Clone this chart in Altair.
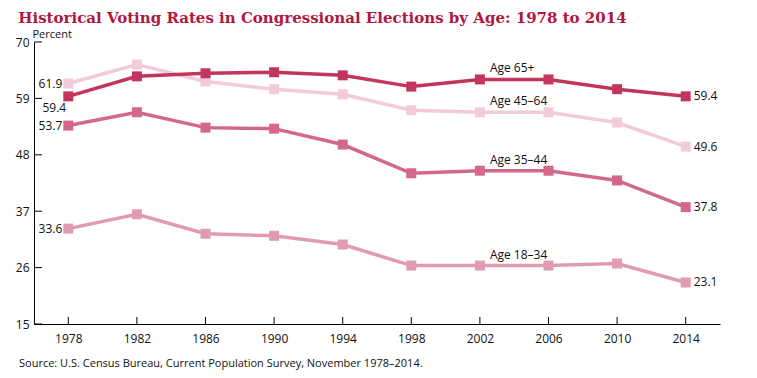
import altair as alt
import pandas as pd

years = [1978, 1982, 1986, 1990, 1994, 1998, 2002, 2006, 2010, 2014]
age_65 = [59.4, 63.3, 63.9, 64.1, 63.5, 61.3, 62.7, 62.7, 60.8, 59.4]
age_45 = [61.9, 65.6, 62.3, 60.8, 59.8, 56.7, 56.3, 56.3, 54.3, 49.6]
age_35 = [53.7, 56.3, 53.3, 53.1, 50.0, 44.4, 44.9, 44.9, 43.0, 37.8]
age_18 = [33.6, 36.4, 32.6, 32.2, 30.5, 26.4, 26.4, 26.4, 26.8, 23.1]
series_names = ["Age 18\u201334", "Age 35\u201344", "Age 45\u201364", "Age 65+"]
series_colors = ["#E09BB3", "#D4688A", "#F2CBD7", "#C4355E"]
y_ticks = [15, 26, 37, 48, 59, 70]

title_text = "Historical Voting Rates in Congressional Elections by Age: 1978 to 2014"
source_text = "Source: U.S. Census Bureau, Current Population Survey, November 1978\u20132014."

rows = []
for name, vals in zip(series_names, [age_18, age_35, age_45, age_65]):
    for yr, v in zip(years, vals):
        rows.append({"series": name, "year": yr, "value": v, "label": f"{v:.1f}"})
df = pd.DataFrame(rows)

W, H = 686, 282
FONT = "Open Sans"

x = alt.X("year:Q", scale=alt.Scale(domain=[1976, 2016], nice=False, zero=False),
          axis=alt.Axis(values=years, format="d", ticks=False, grid=False, domainColor="#000",
                        labelFont=FONT, labelFontSize=12, labelColor="#111", labelPadding=9,
                        title=None))
y = alt.Y("value:Q", scale=alt.Scale(domain=[15, 70], nice=False, zero=False),
          axis=alt.Axis(values=y_ticks, ticks=False, grid=False, domainColor="#000",
                        labelFont=FONT, labelFontSize=12, labelColor="#111", labelPadding=5,
                        title="Percent", titleAngle=0, titleAlign="left", titleBaseline="bottom",
                        titleX=-2, titleY=-3, titleFont=FONT, titleFontSize=11,
                        titleFontWeight="normal", titleColor="#111"))
color = alt.Color("series:N", scale=alt.Scale(domain=series_names, range=series_colors), legend=None)

base = alt.Chart(df)

lines = base.mark_line(strokeWidth=3.5).encode(x=x, y=y, color=color, detail="series:N")
points = base.mark_square(size=100, opacity=1).encode(x="year:Q", y="value:Q", color=color)

text_common = dict(font=FONT, fontSize=12, color="#111", baseline="middle")

left_lbl = base.transform_filter(
    (alt.datum.year == 1978) & (alt.datum.series != "Age 65+")
).mark_text(align="right", dx=-6, **text_common).encode(x="year:Q", y="value:Q", text="label:N")

left_65 = base.transform_filter(
    (alt.datum.year == 1978) & (alt.datum.series == "Age 65+")
).mark_text(align="center", dx=-14, dy=12, **text_common).encode(x="year:Q", y="value:Q", text="label:N")

right_lbl = base.transform_filter(alt.datum.year == 2014).mark_text(
    align="left", dx=8, **text_common).encode(x="year:Q", y="value:Q", text="label:N")

name_lbl = base.transform_filter(alt.datum.year == 2002).mark_text(
    align="left", dx=10, dy=-11, **text_common).encode(x="year:Q", y="value:Q", text="series:N")

xt = pd.DataFrame({"year": years})
yt = pd.DataFrame({"value": y_ticks})
x_ticks = alt.Chart(xt).mark_rule(color="#000", strokeWidth=1).encode(
    x="year:Q", y=alt.value(H), y2=alt.value(H - 7))
y_tick_marks = alt.Chart(yt).mark_rule(color="#000", strokeWidth=1).encode(
    y="value:Q", x=alt.value(0), x2=alt.value(8))

source = alt.Chart(pd.DataFrame({"t": [source_text]})).mark_text(
    align="left", baseline="middle", font=FONT, fontSize=11, color="#111").encode(
    text="t:N", x=alt.value(-15), y=alt.value(H + 40))

chart = alt.layer(lines, x_ticks, y_tick_marks, points, left_lbl, left_65, right_lbl, name_lbl, source).properties(
    width=W, height=H,
    autosize=alt.AutoSizeParams(type="none"),
    padding={"left": 26, "top": 34, "right": 25, "bottom": 46},
    title=alt.TitleParams(title_text, anchor="start", font="DejaVu Serif", fontSize=15,
                          fontWeight="bold", color="#B0173F", dx=3, dy=12, offset=14),
).configure_view(stroke=None).configure_axisX(domainWidth=1).configure_axisY(domainWidth=1)

chart.save("out.html", embed_options={"renderer": "svg", "actions": False})
